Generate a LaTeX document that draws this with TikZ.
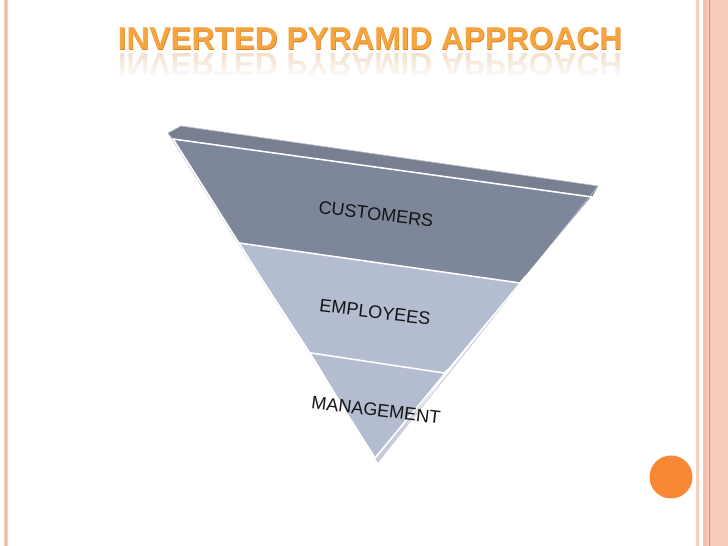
\documentclass[tikz,border=0pt]{standalone}
\usepackage{fontspec}
\setmainfont{Liberation Sans}
\usetikzlibrary{fadings}
\definecolor{custgray}{HTML}{7E8699}
\definecolor{empgray}{HTML}{B4BCCF}
\definecolor{sidegray}{HTML}{C6CCDA}
\definecolor{edgegray}{HTML}{B9BEC9}
\definecolor{titleorange}{HTML}{F5A540}
\definecolor{titledark}{HTML}{E07F22}
\definecolor{dotorange}{HTML}{F98836}
\definecolor{stripe}{HTML}{F9CDBD}
\definecolor{stripedark}{HTML}{F3B7A3}
\definecolor{rimline}{HTML}{EE8A5A}
\tikzset{
  titletext/.style={font=\fontsize{18}{20}\selectfont\bfseries, anchor=base, inner sep=0pt},
  layertext/.style={font=\fontsize{10.3}{12}\selectfont, text=black!92, rotate=-7, inner sep=0pt},
  whiteedge/.style={draw=white, line width=0.9pt, line join=round}
}
\begin{document}
\begin{tikzpicture}[x=0.02cm, y=-0.02cm]
\useasboundingbox (0,0) rectangle (728,546);
\fill[white] (0,0) rectangle (728,546);
% borders
\fill[stripe] (4,0) rectangle (8,546);
\fill[stripedark] (5.3,0) rectangle (6.7,546);
\fill[stripe] (696,0) rectangle (699,546);
\fill[stripe] (703,0) rectangle (728,546);
\fill[stripedark!60!stripe] (703,0) rectangle (707,546);
\fill[rimline] (709.2,0) rectangle (710.2,546);
\node[circle, fill=dotorange, minimum size=0.86cm, inner sep=0pt] (dot) at (671,477) {};
% title
\node[titletext, text=titledark] (titleshadow) at (370.6,50.6) {INVERTED PYRAMID APPROACH};
\node[titletext, text=titleorange] (title) at (370,50) {INVERTED PYRAMID APPROACH};
\node[titletext, text=titleorange!70!gray, opacity=.3, yscale=-1] (titlerefl) at (370,54) {INVERTED PYRAMID APPROACH};
\fill[white, path fading=north] (100,53) rectangle (640,80);
% pyramid corners
\coordinate (t1) at (168,133);
\coordinate (t2) at (181,126);
\coordinate (t3) at (598,186);
\coordinate (apex) at (378,462);
\coordinate (f1) at (173,139);
\coordinate (f2) at (592,197);
\coordinate (f3) at (375,458);
\coordinate (b1l) at (239,243);
\coordinate (b1r) at (520,283);
\coordinate (b2l) at (311,353);
\coordinate (b2r) at (444,373);
\coordinate (s1) at (525,277);
\coordinate (s2) at (449,369);
% faces
\fill[custgray!95!black] (t1) -- (t2) -- (t3) -- (f2) -- (f1) -- cycle;
\fill[custgray] (t3) -- (s1) -- (b1r) -- (f2) -- cycle;
\fill[sidegray] (s1) -- (s2) -- (b2r) -- (b1r) -- cycle;
\fill[sidegray] (s2) -- (apex) -- (f3) -- (b2r) -- cycle;
\fill[custgray] (f1) -- (f2) -- (b1r) -- (b1l) -- cycle;
\fill[empgray] (b1l) -- (b1r) -- (b2r) -- (b2l) -- cycle;
\fill[empgray] (b2l) -- (b2r) -- (f3) -- cycle;
% edges
\draw[edgegray, line width=0.4pt] (t1) -- (t2) -- (t3) -- (apex) -- (f3) -- (t1);
\draw[whiteedge] (f1) -- (f2) -- (f3) -- cycle;
\draw[whiteedge] (b1l) -- (b1r) -- (s1);
\draw[whiteedge] (b2l) -- (b2r) -- (s2);
% labels
\node[layertext] (customers) at (376,214) {CUSTOMERS};
\node[layertext] (employees) at (375,312) {EMPLOYEES};
\node[layertext] (management) at (376,410) {MANAGEMENT};
\end{tikzpicture}
\end{document}
